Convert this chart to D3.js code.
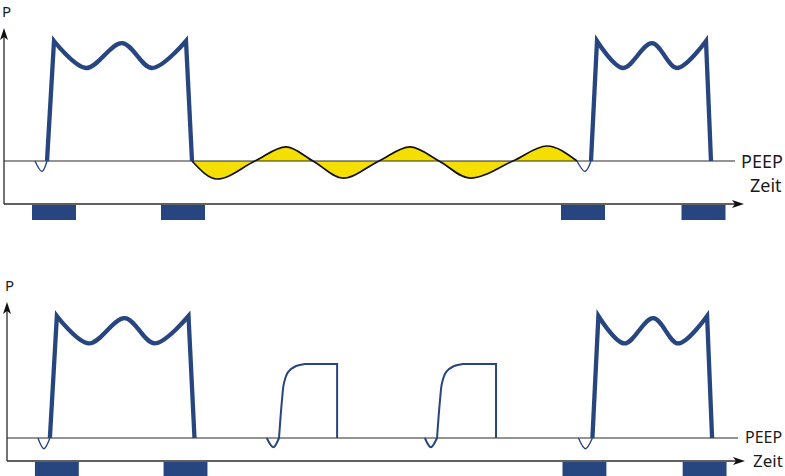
<!DOCTYPE html>
<html>
<head>
<meta charset="UTF-8" />
<title>Beatmung: Druckkurven</title>
<script src="https://cdn.jsdelivr.net/npm/d3@7"></script>
<style>
  body { margin: 0; background: #fff; }
  text { font-family: "Noto Sans", sans-serif; fill: #1a1a1a; }
</style>
</head>
<body>
<svg id="chart"></svg>
<script>
// time in s, pressure relative to PEEP
const tDomain = [0, 14.8];
const pDomain = [0, 40];

// mandatory breaths (shared by both panels)
const breathTimes = [
  [0.86, 1.00, 1.64, 2.36, 2.96, 3.64, 3.76],
  [11.74, 11.86, 12.38, 12.96, 13.46, 14.04, 14.14]
];
const breathPressures = [0, 40, 31, 39.3, 31, 40, 0];

// trigger dips before each mandatory breath
const dipTimesTop = [[0.62, 0.76, 0.86], [11.46, 11.62, 11.74]];
const dipTimesBottom = [[0.62, 0.74, 0.86], [11.46, 11.60, 11.74]];
const dipPressures = [0, -3.5, 0];

// top panel: spontaneous breathing between the breaths (yellow)
const waveTimes = [3.76, 4.26, 5.02, 5.64, 6.18, 6.78, 7.50, 8.12, 8.70, 9.32, 10.18, 10.86, 11.46];
const wavePressures = [0, -6, 0, 4.7, 0, -5.7, 0, 4.7, 0, -5.7, 0, 5, 0];

// bottom panel: supported spontaneous breaths
const spontDipTimes = [[5.21, 5.34, 5.455], [8.38, 8.50, 8.624]];
const spontDipPressures = [0, -3, 0];
const spontRiseTimes = [
  [5.455, 5.515, 5.555, 5.636, 5.797, 5.977],
  [8.624, 8.684, 8.724, 8.805, 8.965, 9.146]
];
const spontRisePressures = [0, 12.5, 18, 21.6, 23.6, 24.3];
const spontEndTimes = [6.62, 9.807];

// trigger markers below the time axis
const markerStarts = [0.56, 3.14, 11.14, 13.55];
const markerLength = 0.88;

const width = 785, height = 476;
const blue = "#27457e";
const ink = "#2b2b2b";

const svg = d3.select("#chart").attr("width", width).attr("height", height);

const panels = [
  { xr: [4, 744], yr: [161, 41], axisY: 204, axisTop: 28, peepEnd: 14.62,
    pY: 17, pSize: 15, peep: [741, 168, 18], zeit: [750, 192, 18], markH: 15,
    dips: dipTimesTop, top: true },
  { xr: [7, 745], yr: [438, 316.0], axisY: 461, axisTop: 302, peepEnd: 14.66,
    pY: 291, pSize: 15, peep: [745, 443, 16], zeit: [753, 467, 17], markH: 15,
    dips: dipTimesBottom, top: false }
];

// join several curve pieces into one path so corners stay sharp
function joined(pieces) {
  return pieces.map((p, i) => {
    const s = d3.line().x(d => p.x(d[0])).y(d => p.y(d[1])).curve(p.curve)(p.pts);
    return i === 0 ? s : s.replace(/^M/, "L");
  }).join("");
}
const zip = (ts, ps) => ts.map((t, i) => [t, ps[i]]);

panels.forEach(cfg => {
  const x = d3.scaleLinear().domain(tDomain).range(cfg.xr);
  const y = d3.scaleLinear().domain(pDomain).range(cfg.yr);
  const g = svg.append("g");
  const x0 = x(0);

  // yellow spontaneous area (top panel)
  if (cfg.top) {
    const pts = zip(waveTimes, wavePressures);
    g.append("path")
      .attr("d", d3.area().x(d => x(d[0])).y0(y(0)).y1(d => y(d[1])).curve(d3.curveMonotoneX)(pts))
      .attr("fill", "#f4df00");
  }

  // PEEP line
  g.append("line")
    .attr("x1", x0).attr("x2", x(cfg.peepEnd))
    .attr("y1", y(0)).attr("y2", y(0))
    .attr("stroke", ink).attr("stroke-width", 1.2);

  if (cfg.top) {
    const pts = zip(waveTimes, wavePressures);
    g.append("path")
      .attr("d", d3.line().x(d => x(d[0])).y(d => y(d[1])).curve(d3.curveMonotoneX)(pts))
      .attr("fill", "none").attr("stroke", "#111").attr("stroke-width", 1.7);
  }

  // axes
  g.append("line")
    .attr("x1", x0).attr("x2", x(tDomain[1]) - 8)
    .attr("y1", cfg.axisY).attr("y2", cfg.axisY)
    .attr("stroke", ink).attr("stroke-width", 1.3);
  g.append("path")
    .attr("d", `M${x(tDomain[1])},${cfg.axisY}L${x(tDomain[1]) - 12},${cfg.axisY - 4}L${x(tDomain[1]) - 9},${cfg.axisY}L${x(tDomain[1]) - 12},${cfg.axisY + 4}Z`)
    .attr("fill", "#111");
  g.append("line")
    .attr("x1", x0).attr("x2", x0)
    .attr("y1", cfg.axisY).attr("y2", cfg.axisTop + 8)
    .attr("stroke", ink).attr("stroke-width", 1.3);
  g.append("path")
    .attr("d", `M${x0},${cfg.axisTop}L${x0 - 4},${cfg.axisTop + 12}L${x0},${cfg.axisTop + 9}L${x0 + 4},${cfg.axisTop + 12}Z`)
    .attr("fill", "#111");

  // trigger dips
  cfg.dips.forEach(ts => {
    g.append("path")
      .attr("d", d3.line().x(d => x(d[0])).y(d => y(d[1])).curve(d3.curveCatmullRom)(zip(ts, dipPressures)))
      .attr("fill", "none").attr("stroke", blue).attr("stroke-width", 1.4);
  });

  // mandatory breaths
  breathTimes.forEach(ts => {
    const pts = zip(ts, breathPressures);
    g.append("path")
      .attr("d", joined([
        { pts: pts.slice(0, 2), curve: d3.curveLinear, x, y },
        { pts: pts.slice(1, 6), curve: d3.curveCatmullRom, x, y },
        { pts: pts.slice(5), curve: d3.curveLinear, x, y }
      ]))
      .attr("fill", "none").attr("stroke", blue)
      .attr("stroke-width", 4.3).attr("stroke-linejoin", "miter");
  });

  // supported spontaneous breaths
  if (!cfg.top) {
    spontDipTimes.forEach((ts, i) => {
      const rise = zip(spontRiseTimes[i], spontRisePressures);
      const last = rise[rise.length - 1];
      g.append("path")
        .attr("d", joined([
          { pts: zip(ts, spontDipPressures), curve: d3.curveCatmullRom, x, y },
          { pts: rise, curve: d3.curveCatmullRom, x, y },
          { pts: [last, [spontEndTimes[i], last[1]], [spontEndTimes[i], 0]], curve: d3.curveLinear, x, y }
        ]))
        .attr("fill", "none").attr("stroke", blue).attr("stroke-width", 2);
    });
  }

  // trigger markers
  g.selectAll("rect.mark")
    .data(markerStarts)
    .join("rect")
    .attr("class", "mark")
    .attr("x", d => x(d))
    .attr("y", cfg.axisY + 1)
    .attr("width", d => x(d + markerLength) - x(d))
    .attr("height", cfg.markH)
    .attr("fill", blue);

  // labels
  g.append("text").attr("x", x0 - 2).attr("y", cfg.pY)
    .attr("font-size", cfg.pSize).text("P");
  g.append("text").attr("x", cfg.peep[0]).attr("y", cfg.peep[1])
    .attr("font-size", cfg.peep[2]).text("PEEP");
  g.append("text").attr("x", cfg.zeit[0]).attr("y", cfg.zeit[1])
    .attr("font-size", cfg.zeit[2]).text("Zeit");
});
</script>
</body>
</html>
